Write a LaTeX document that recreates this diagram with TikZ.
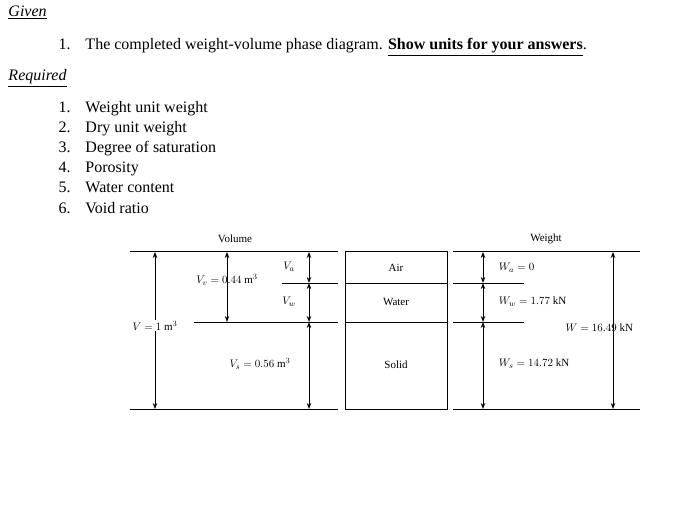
\documentclass[tikz,border=0pt]{standalone}
\usepackage{fontspec}
\setmainfont{Liberation Serif}
\usetikzlibrary{arrows.meta}
\begin{document}
\begin{tikzpicture}[x=1pt,y=-1pt,line width=1pt,>={Stealth[length=6pt,width=4.5pt]},
  txt/.style={anchor=base west,font=\fontsize{16}{18}\selectfont,inner sep=0pt},
  lab/.style={font=\fontsize{11}{13}\selectfont,inner sep=1pt,fill=white},
  sm/.style={font=\fontsize{11}{13}\selectfont},
  dim/.style={<->}]
\useasboundingbox (0,0) rectangle (700,510);
% text part
\node[txt] (given) at (8,17) {\underline{\textit{Given}}};
\node[txt] (g1) at (58,50) {1.\hspace{15pt}The completed weight-volume phase diagram. \textbf{\underline{Show units for your answers}}.};
\node[txt] (req) at (8,81) {\underline{\textit{Required}}};
\foreach \i/\t in {1/Weight unit weight,2/Dry unit weight,3/Degree of saturation,4/Porosity,5/Water content,6/Void ratio}
  \node[txt] (r\i) at (58,92+20.2*\i) {\i.\hspace{15pt}\t};
% diagram lines
\draw (130,252) -- (338,252) (130,409) -- (338,409);
\draw (282,283) -- (338,283) (194,322) -- (338,322);
\draw (345,252) rectangle (447,409);
\draw (345,283) -- (447,283) (345,322) -- (447,322);
\draw (453,252) -- (640,252) (453,409) -- (640,409);
\draw (453,283) -- (524,283) (453,322) -- (524,322);
\node[sm] (vol) at (235,239) {Volume};
\node[sm] (wgt) at (546,239) {Weight};
\node[sm] (air) at (396,268) {Air};
\node[sm] (water) at (396,302) {Water};
\node[sm] (solid) at (396,365) {Solid};
% dimension arrows
\coordinate (a1) at (155,252); \coordinate (a2) at (155,409);
\draw[dim] (a1) -- (a2) node[lab,pos=0.47] (V) {$V = 1$ m$^3$};
\coordinate (b1) at (227,252); \coordinate (b2) at (227,322);
\draw[dim] (b1) -- (b2) node[lab,pos=0.4,fill=none] (Vv) {$V_v = 0.44$ m$^3$};
\coordinate (c1) at (309,252); \coordinate (c2) at (309,283);
\coordinate (c3) at (309,322); \coordinate (c4) at (309,409);
\draw[dim] (c1) -- (c2); \draw[dim] (c2) -- (c3); \draw[dim] (c3) -- (c4);
\node[sm] (Va) at (289,267) {$V_a$};
\node[sm] (Vw) at (289,302) {$V_w$};
\node[sm] (Vs) at (260,364) {$V_s = 0.56$ m$^3$};
\coordinate (d1) at (483,252); \coordinate (d2) at (483,283);
\coordinate (d3) at (483,322); \coordinate (d4) at (483,409);
\draw[dim] (d1) -- (d2); \draw[dim] (d2) -- (d3); \draw[dim] (d3) -- (d4);
\node[sm,anchor=west] (Wa) at (495,268) {$W_a = 0$};
\node[sm,anchor=west] (Ww) at (495,302) {$W_w = 1.77$ kN};
\node[sm,anchor=west] (Ws) at (495,364) {$W_s = 14.72$ kN};
\coordinate (e1) at (613,252); \coordinate (e2) at (613,409);
\draw[dim] (e1) -- (e2);
\node[sm,anchor=west,inner sep=1pt] (W) at (564,328) {$W = 16.49$ kN};
\end{tikzpicture}
\end{document}
